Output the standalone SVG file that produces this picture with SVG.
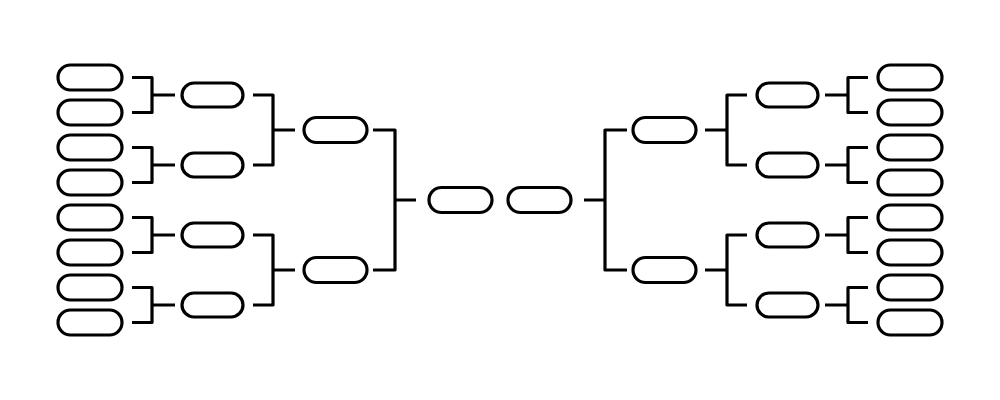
<svg xmlns="http://www.w3.org/2000/svg" width="1000" height="400" viewBox="0 0 1000 400">
<style>
.o{fill:#fff;stroke:#000;stroke-width:3.2}
.c{fill:none;stroke:#000;stroke-width:3.2;stroke-linejoin:round;stroke-linecap:butt}
</style>
<rect width="1000" height="400" fill="#fff"/>
<g id="connectors" class="c">
<path d="M132 77.5H152V112.5H132M152 95H175"/>
<path d="M132 147.5H152V182.5H132M152 165H175"/>
<path d="M132 217.5H152V252.5H132M152 235H175"/>
<path d="M132 287.5H152V322.5H132M152 305H175"/>
<path d="M253 95H273V165H253M273 130H295"/>
<path d="M253 235H273V305H253M273 270H295"/>
<path d="M373 130H395V270H373M395 200H416"/>
<path d="M868 77.5H848V112.5H868M848 95H825"/>
<path d="M868 147.5H848V182.5H868M848 165H825"/>
<path d="M868 217.5H848V252.5H868M848 235H825"/>
<path d="M868 287.5H848V322.5H868M848 305H825"/>
<path d="M747 95H727V165H747M727 130H705"/>
<path d="M747 235H727V305H747M727 270H705"/>
<path d="M627 130H605V270H627M605 200H584"/>
</g>
<g id="L1a"><rect class="o" x="58" y="65" width="64" height="25" rx="12.5"/></g>
<g id="L1b"><rect class="o" x="58" y="100" width="64" height="25" rx="12.5"/></g>
<g id="L1c"><rect class="o" x="58" y="135" width="64" height="25" rx="12.5"/></g>
<g id="L1d"><rect class="o" x="58" y="170" width="64" height="25" rx="12.5"/></g>
<g id="L1e"><rect class="o" x="58" y="205" width="64" height="25" rx="12.5"/></g>
<g id="L1f"><rect class="o" x="58" y="240" width="64" height="25" rx="12.5"/></g>
<g id="L1g"><rect class="o" x="58" y="275" width="64" height="25" rx="12.5"/></g>
<g id="L1h"><rect class="o" x="58" y="310" width="64" height="25" rx="12.5"/></g>
<g id="L2a"><rect class="o" x="182" y="83" width="61" height="24" rx="12"/></g>
<g id="L2b"><rect class="o" x="182" y="153" width="61" height="24" rx="12"/></g>
<g id="L2c"><rect class="o" x="182" y="223" width="61" height="24" rx="12"/></g>
<g id="L2d"><rect class="o" x="182" y="293" width="61" height="24" rx="12"/></g>
<g id="L3a"><rect class="o" x="304" y="117.5" width="63" height="25" rx="12.5"/></g>
<g id="L3b"><rect class="o" x="304" y="257.5" width="63" height="25" rx="12.5"/></g>
<g id="L4"><rect class="o" x="429" y="187.5" width="63" height="25" rx="12.5"/></g>
<g id="R4"><rect class="o" x="508" y="187.5" width="63" height="25" rx="12.5"/></g>
<g id="R3a"><rect class="o" x="633" y="117.5" width="63" height="25" rx="12.5"/></g>
<g id="R3b"><rect class="o" x="633" y="257.5" width="63" height="25" rx="12.5"/></g>
<g id="R2a"><rect class="o" x="757" y="83" width="61" height="24" rx="12"/></g>
<g id="R2b"><rect class="o" x="757" y="153" width="61" height="24" rx="12"/></g>
<g id="R2c"><rect class="o" x="757" y="223" width="61" height="24" rx="12"/></g>
<g id="R2d"><rect class="o" x="757" y="293" width="61" height="24" rx="12"/></g>
<g id="R1a"><rect class="o" x="878" y="65" width="64" height="25" rx="12.5"/></g>
<g id="R1b"><rect class="o" x="878" y="100" width="64" height="25" rx="12.5"/></g>
<g id="R1c"><rect class="o" x="878" y="135" width="64" height="25" rx="12.5"/></g>
<g id="R1d"><rect class="o" x="878" y="170" width="64" height="25" rx="12.5"/></g>
<g id="R1e"><rect class="o" x="878" y="205" width="64" height="25" rx="12.5"/></g>
<g id="R1f"><rect class="o" x="878" y="240" width="64" height="25" rx="12.5"/></g>
<g id="R1g"><rect class="o" x="878" y="275" width="64" height="25" rx="12.5"/></g>
<g id="R1h"><rect class="o" x="878" y="310" width="64" height="25" rx="12.5"/></g>
</svg>
